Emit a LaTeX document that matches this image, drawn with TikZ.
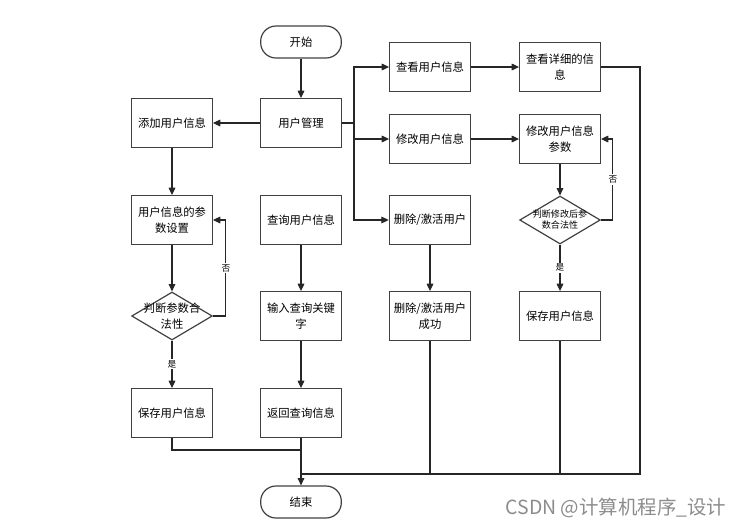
\documentclass[tikz,border=0pt]{standalone}
\usepackage{fontspec}
\setmainfont{Noto Sans CJK SC}
\usetikzlibrary{shapes.geometric,arrows.meta}
\begin{document}
\begin{tikzpicture}[x=.75pt,y=-.75pt,
	box/.style={draw=black!75,line width=.9pt,fill=white,minimum width=60.5pt,minimum height=36.5pt,align=center,font=\fontsize{8.5}{12}\selectfont},
	term/.style={draw=black!75,line width=.9pt,rounded corners=11.5pt,minimum width=60.5pt,minimum height=24pt,font=\fontsize{8.5}{12}\selectfont},
	chk/.style={diamond,draw=black!75,line width=.9pt,inner sep=0pt,minimum width=60.5pt,minimum height=36pt},
	txt/.style={align=center,inner sep=0pt},
	arr/.style={-{Triangle[length=5.5pt,width=5pt]},line width=.8pt,draw=black!85},
	ln/.style={line width=.8pt,draw=black!85},
	lbl/.style={fill=white,inner sep=1pt,font=\fontsize{6.5}{7.5}\selectfont}]
	\useasboundingbox (0,0) rectangle (742,526);

	\node[term] (start) at (301,42) {开始};
	\node[box] (mgr) at (301,123) {用户管理};
	\node[box] (add) at (172,123) {添加用户信息};
	\node[box] (view) at (430,67) {查看用户信息};
	\node[box] (detail) at (560,67) {查看详细的信\\息};
	\node[box] (mod) at (430,139) {修改用户信息};
	\node[box] (modp) at (560,139) {修改用户信息\\参数};
	\node[box] (setp) at (172,220) {用户信息的参\\数设置};
	\node[box] (query) at (301,220) {查询用户信息};
	\node[box] (del) at (430,220) {删除/激活用户};
	\node[chk] (chk2) at (560,220) {};
	\node[txt,font=\fontsize{6.8}{8.2}\selectfont] (chk2t) at (chk2) {判断修改后参\\数合法性};
	\node[chk] (chk1) at (172,316) {};
	\node[txt,font=\fontsize{8.5}{11.5}\selectfont] (chk1t) at (chk1) {判断参数合\\法性};
	\node[box] (key) at (301,316) {输入查询关键\\字};
	\node[box] (delok) at (430,316) {删除/激活用户\\成功};
	\node[box] (saveR) at (560,316) {保存用户信息};
	\node[box] (saveL) at (172,413) {保存用户信息};
	\node[box] (back) at (301,413) {返回查询信息};
	\node[term] (end) at (301,502) {结束};
	\node[text=black!45,font=\fontsize{14.6}{16}\selectfont] (mark) at (616,508) {CSDN @计算机程序\_设计};

	\coordinate (bus) at (354,123);
	\coordinate (rbus) at (640,474);
	\coordinate (merge) at (301,474);
	\coordinate (mergeL) at (301,450);

	\draw[arr] (start) -- (mgr);
	\draw[arr] (mgr) -- (add);
	\draw[ln] (mgr.east) -- (bus);
	\draw[arr] (bus) |- (view.west);
	\draw[arr] (bus) |- (mod.west);
	\draw[arr] (bus) |- (del.west);
	\draw[arr] (view) -- (detail);
	\draw[arr] (mod) -- (modp);
	\draw[arr] (modp) -- (chk2);
	\draw[arr] (chk2.east) -- ++(12,0) |- node[lbl,pos=.25]{否} (modp.east);
	\draw[arr] (chk2) -- node[lbl]{是} (saveR);
	\draw[arr] (add) -- (setp);
	\draw[arr] (setp) -- (chk1);
	\draw[arr] (chk1.east) -- ++(13,0) |- node[lbl,pos=.25]{否} (setp.east);
	\draw[arr] (chk1) -- node[lbl]{是} (saveL);
	\draw[arr] (query) -- (key);
	\draw[arr] (key) -- (back);
	\draw[arr] (del) -- (delok);

	\draw[ln] (detail.east) -| (rbus) -- (merge);
	\draw[ln] (delok.south) -- (delok.south |- merge);
	\draw[ln] (saveR.south) -- (saveR.south |- merge);
	\draw[ln] (saveL.south) |- (mergeL);
	\draw[arr] (back) -- (end);
\end{tikzpicture}
\end{document}
